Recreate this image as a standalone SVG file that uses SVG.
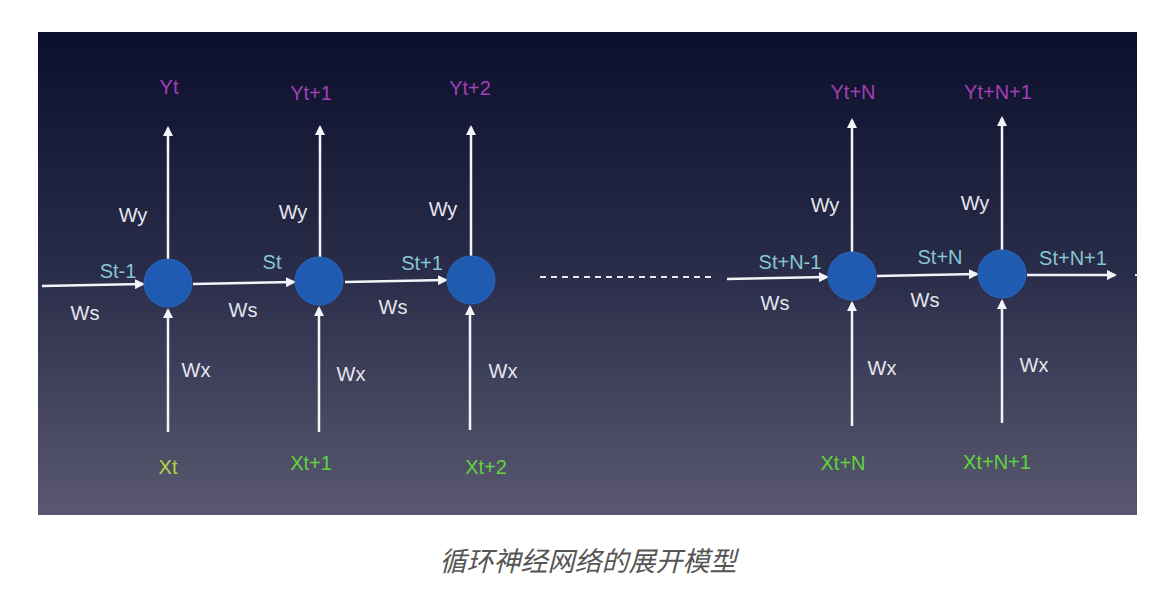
<svg xmlns="http://www.w3.org/2000/svg" width="1174" height="604" viewBox="0 0 1174 604">
<style>
text{font-family:"Liberation Sans",Arial,sans-serif;font-size:20px;text-anchor:middle}
.y{fill:#a23fb5}.w{fill:#e6e6ee}.s{fill:#86c6d2}.x{fill:#5fd43f}
.c{fill:#1f5bb0;stroke:#2a66c0;stroke-width:1}
.l{stroke:#f4f4f8;stroke-width:2.5;fill:none;marker-end:url(#a)}
</style>
<defs>
<linearGradient id="bg" x1="0" y1="0" x2="0" y2="1"><stop offset="0" stop-color="#0b0f2b"/><stop offset="0.5" stop-color="#2a2d4a"/><stop offset="1" stop-color="#5a5870"/></linearGradient>
<marker id="a" markerWidth="10" markerHeight="10" refX="8" refY="5" orient="auto" markerUnits="userSpaceOnUse"><path d="M0,0L10,5L0,10z" fill="#f4f4f8"/></marker>
</defs>
<rect width="1174" height="604" fill="#fff"/>
<rect x="38" y="32" width="1099" height="483" fill="url(#bg)"/>
<g id="connectors">
<line class="l" x1="42" y1="286" x2="143" y2="284"/>
<line class="l" x1="193" y1="284" x2="294" y2="282"/>
<line class="l" x1="345" y1="282" x2="446" y2="280"/>
<line class="l" x1="727" y1="279" x2="827" y2="277"/>
<line class="l" x1="877" y1="276" x2="977" y2="274"/>
<line class="l" x1="1027" y1="275" x2="1115" y2="275"/>
<line x1="540" y1="277" x2="712" y2="277" stroke="#e6e6ee" stroke-width="2" stroke-dasharray="6,5"/>
<line x1="1135" y1="275" x2="1138" y2="275" stroke="#e6e6ee" stroke-width="2"/>
<line class="l" x1="168" y1="259" x2="168" y2="128"/>
<line class="l" x1="320" y1="257" x2="320" y2="127"/>
<line class="l" x1="471" y1="256" x2="471" y2="127"/>
<line class="l" x1="852" y1="252" x2="852" y2="120"/>
<line class="l" x1="1002" y1="250" x2="1002" y2="118"/>
<line class="l" x1="168" y1="432" x2="168" y2="310"/>
<line class="l" x1="319" y1="432" x2="319" y2="308"/>
<line class="l" x1="470" y1="430" x2="470" y2="307"/>
<line class="l" x1="852" y1="426" x2="852" y2="303"/>
<line class="l" x1="1002" y1="423" x2="1002" y2="301"/>
</g>
<g id="n1"><circle class="c" cx="168" cy="283" r="24"/><text class="y" x="169" y="94">Yt</text><text class="w" x="133" y="222">Wy</text><text class="s" x="118" y="278">St-1</text><text class="w" x="85" y="320">Ws</text><text class="w" x="196" y="377">Wx</text><text class="x" x="168" y="474" style="fill:#b5d43c">Xt</text></g>
<g id="n2"><circle class="c" cx="319" cy="281" r="24"/><text class="y" x="311" y="100">Yt+1</text><text class="w" x="293" y="219">Wy</text><text class="s" x="272" y="269">St</text><text class="w" x="243" y="317">Ws</text><text class="w" x="351" y="381">Wx</text><text class="x" x="311" y="470">Xt+1</text></g>
<g id="n3"><circle class="c" cx="471" cy="280" r="24"/><text class="y" x="470" y="95">Yt+2</text><text class="w" x="443" y="216">Wy</text><text class="s" x="422" y="270">St+1</text><text class="w" x="393" y="314">Ws</text><text class="w" x="503" y="378">Wx</text><text class="x" x="486" y="474">Xt+2</text></g>
<g id="n4"><circle class="c" cx="852" cy="276" r="24"/><text class="y" x="853" y="99">Yt+N</text><text class="w" x="825" y="212">Wy</text><text class="s" x="790" y="269">St+N-1</text><text class="w" x="775" y="310">Ws</text><text class="w" x="882" y="375">Wx</text><text class="x" x="843" y="470">Xt+N</text></g>
<g id="n5"><circle class="c" cx="1002" cy="274" r="24"/><text class="y" x="998" y="99">Yt+N+1</text><text class="w" x="975" y="210">Wy</text><text class="s" x="940" y="264">St+N</text><text class="s" x="1073" y="265">St+N+1</text><text class="w" x="925" y="307">Ws</text><text class="w" x="1034" y="372">Wx</text><text class="x" x="997" y="469">Xt+N+1</text></g>
<text x="588" y="571" style="font-family:'Noto Sans CJK SC',sans-serif;font-size:27px;font-style:italic;fill:#555">循环神经网络的展开模型</text>
</svg>
